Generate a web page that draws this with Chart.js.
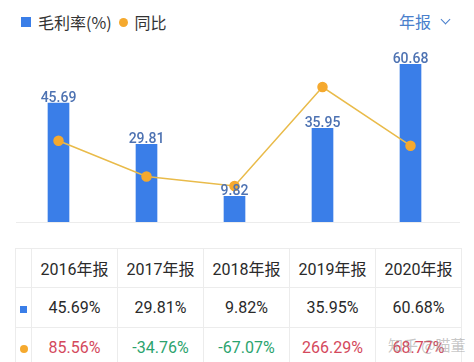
<!DOCTYPE html>
<html>
<head>
<meta charset="utf-8">
<script src="https://cdn.jsdelivr.net/npm/chart.js@4"></script>
<style>
  body { margin: 0; background: #fff; width: 474px; height: 362px; overflow: hidden; position: relative;
         font-family: "Noto Sans CJK SC", "Noto Sans", sans-serif; color: #333; }
  #chartBox { position: absolute; left: 0; top: 0; width: 474px; height: 240px; }
  .legend { position: absolute; top: 11px; left: 21px; height: 22px; font-size: 16px; line-height: 22px; display: flex; align-items: center; }
  .sq { width: 10px; height: 10px; background: #3a7ee8; margin-right: 7px; }
  .dot { width: 9px; height: 9px; border-radius: 50%; background: #f5a92e; margin: 0 7px 0 7px; }
  .period { position: absolute; top: 10px; left: 399px; font-size: 16px; line-height: 22px; color: #4a7fcc; }
  .chev { position: absolute; left: 442px; top: 16px; width: 6px; height: 6px;
          border-right: 1.3px solid #4a7fcc; border-bottom: 1.3px solid #4a7fcc; transform: rotate(45deg); }
  table { position: absolute; left: 15px; top: 248px; border-collapse: collapse; table-layout: fixed; }
  td { border: 1px solid #ececec; text-align: center; padding: 0; font-size: 16px; color: #2a2a2a;
       font-family: Roboto, "Noto Sans CJK SC", sans-serif; }
  .ic-sq { display: inline-block; width: 7px; height: 7px; background: #3a7ee8; }
  .ic-dot { display: inline-block; width: 8px; height: 8px; border-radius: 50%; background: #f5a92e; }
  td.up { color: #d4495c; }
  td.down { color: #2ba36e; }
  .wm { position: absolute; left: 388px; top: 334px; font-size: 15px; color: rgba(150,150,150,0.55); }
</style>
</head>
<body>
<div class="legend"><div class="sq"></div>毛利率(%)<div class="dot"></div>同比</div>
<div class="period">年报</div>
<div class="chev"></div>
<div id="chartBox"><canvas id="c" width="474" height="240"></canvas></div>
<table id="tbl"></table>
<div class="wm">知乎 @瞄董</div>
<script>
// 数据
const years = ['2016年报', '2017年报', '2018年报', '2019年报', '2020年报'];
const grossMargin = [45.69, 29.81, 9.82, 35.95, 60.68];
const yoyChange = [85.56, -34.76, -67.07, 266.29, 68.77];

const COLOR_BAR = '#3a7ee8';
const COLOR_LINE = '#e9bb4a';
const COLOR_DOT = '#f5a92e';

// 柱顶数值
const barLabels = {
  id: 'barLabels',
  afterDatasetsDraw(chart) {
    const ctx = chart.ctx;
    const meta = chart.getDatasetMeta(1);
    ctx.save();
    ctx.font = '500 14px Roboto, sans-serif';
    ctx.fillStyle = '#4d72b2';
    ctx.textAlign = 'center';
    ctx.textBaseline = 'alphabetic';
    meta.data.forEach((bar, i) => {
      ctx.fillText(grossMargin[i].toFixed(2), bar.x, bar.y - 1.5);
    });
    ctx.restore();
  }
};

// 底线
const baseLine = {
  id: 'baseLine',
  beforeDatasetsDraw(chart) {
    const ctx = chart.ctx;
    const y = chart.scales.y.getPixelForValue(0);
    ctx.save();
    ctx.strokeStyle = '#ececec';
    ctx.lineWidth = 1;
    ctx.beginPath();
    ctx.moveTo(16, y + 0.5);
    ctx.lineTo(460, y + 0.5);
    ctx.stroke();
    ctx.restore();
  }
};

new Chart(document.getElementById('c'), {
  data: {
    labels: years,
    datasets: [
      {
        type: 'line',
        label: '同比',
        data: yoyChange,
        yAxisID: 'y2',
        borderColor: COLOR_LINE,
        backgroundColor: COLOR_DOT,
        pointBackgroundColor: COLOR_DOT,
        pointBorderColor: COLOR_DOT,
        pointRadius: 4.5,
        borderWidth: 1.5,
        tension: 0,
        order: 0
      },
      {
        type: 'bar',
        label: '毛利率(%)',
        data: grossMargin,
        yAxisID: 'y',
        backgroundColor: COLOR_BAR,
        barThickness: 21,
        order: 1
      }
    ]
  },
  options: {
    responsive: false,
    devicePixelRatio: 1,
    animation: false,
    layout: { padding: { left: 14.5, right: 19.5, top: 64, bottom: 18 } },
    plugins: { legend: { display: false }, tooltip: { enabled: false } },
    scales: {
      x: { display: false, offset: true },
      y: { display: false, min: 0, max: 60.68 },
      y2: { display: false, min: -188, max: 344 }
    }
  },
  plugins: [baseLine, barLabels]
});

// 表格
const tbl = document.getElementById('tbl');
const colW = [16, 86, 86, 86, 86, 86];
let html = '<colgroup>' + colW.map(w => `<col style="width:${w}px">`).join('') + '</colgroup>';
html += '<tr style="height:39px"><td></td>' + years.map(y => `<td>${y}</td>`).join('') + '</tr>';
html += '<tr style="height:40px"><td><span class="ic-sq"></span></td>' +
  grossMargin.map(v => `<td>${v.toFixed(2)}%</td>`).join('') + '</tr>';
html += '<tr style="height:40px"><td><span class="ic-dot"></span></td>' +
  yoyChange.map(v => `<td class="${v >= 0 ? 'up' : 'down'}">${v.toFixed(2)}%</td>`).join('') + '</tr>';
tbl.innerHTML = html;
</script>
</body>
</html>
